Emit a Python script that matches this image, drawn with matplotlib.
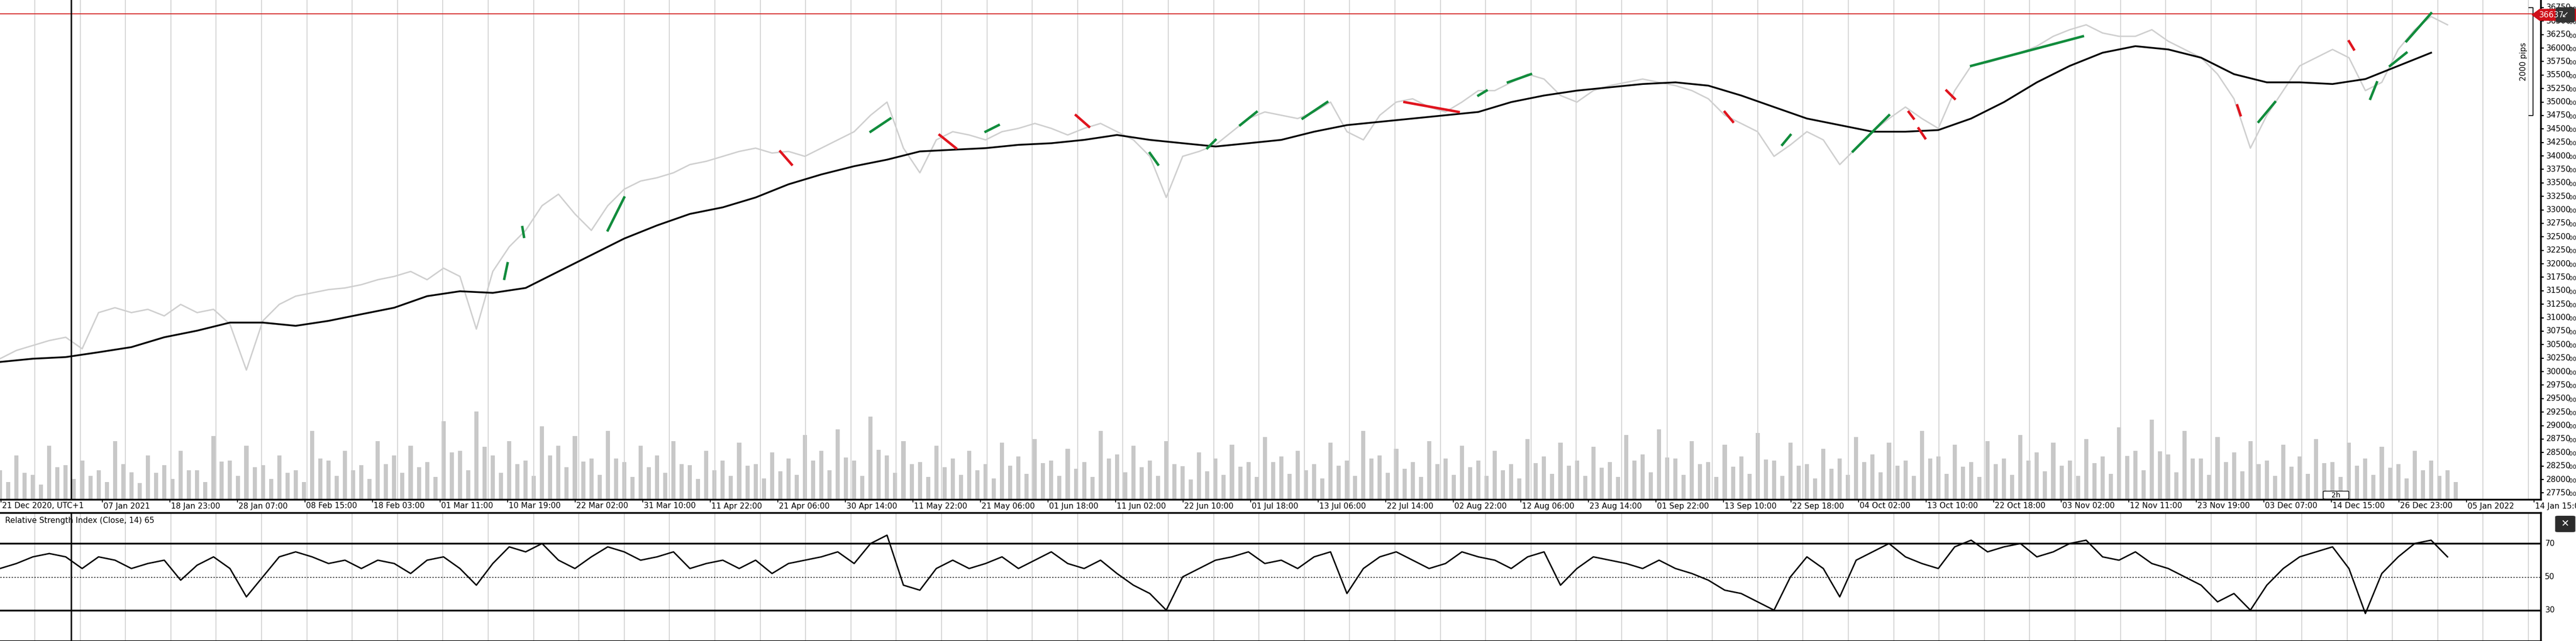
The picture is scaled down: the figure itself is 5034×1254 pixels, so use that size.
import numpy as np
import matplotlib
matplotlib.use("Agg")
import matplotlib.pyplot as plt
from matplotlib.patches import Polygon, FancyBboxPatch

plt.rcParams['font.family'] = ['Liberation Sans Narrow', 'DejaVu Sans']

# ---- data (sample index = one step of ~32 px) ----
price = [30240,30394,30485,30577,30638,30424,31095,31186,31095,31156,31034,31247,31095,31156,30880,30030,
         30942,31247,31400,31461,31522,31552,31613,31705,31766,31858,31705,31919,31766,30790,31858,32315,
         32620,33078,33291,32925,32620,33078,33383,33535,33596,33688,33840,33901,33993,34084,34145,34054,
         34084,33993,34145,34298,34450,34755,34999,34145,33688,34298,34450,34389,34298,34450,34511,34603,
         34511,34389,34511,34603,34450,34298,33993,33230,33993,34084,34206,34450,34694,34816,34755,34694,
         34816,34999,34450,34298,34755,34999,35060,34907,34816,34999,35212,35212,35365,35517,35426,35121,
         34999,35212,35304,35365,35426,35365,35304,35212,35060,34755,34603,34450,33993,34206,34450,34298,
         33840,34145,34450,34694,34907,34694,34511,35212,35670,35731,35822,35914,36036,36219,36341,36432,
         36280,36219,36219,36341,36127,35975,35822,35517,35060,34145,34755,35212,35670,35822,35975,35822,
         35212,35365,35975,36341,36585,36432]
sma_idx = list(range(0, 150, 2))
sma = [30180,30240,30270,30360,30455,30638,30760,30910,30910,30850,30942,31065,31186,31400,31491,31461,
       31552,31858,32163,32468,32712,32925,33047,33230,33474,33657,33810,33931,34084,34115,34145,34206,
       34236,34298,34389,34298,34236,34175,34236,34298,34450,34572,34633,34694,34755,34816,34999,35121,
       35212,35273,35334,35365,35304,35121,34907,34694,34572,34450,34450,34480,34694,34999,35365,35670,
       35914,36036,35975,35822,35517,35365,35365,35334,35426,35670,35914]
rsi = [55,58,62,64,62,55,62,60,55,58,60,48,57,62,55,38,50,62,65,62,58,60,55,60,58,52,60,62,55,45,
       58,68,65,70,60,55,62,68,65,60,62,65,55,58,60,55,60,52,58,60,62,65,58,70,75,45,42,55,60,55,
       58,62,55,60,65,58,55,60,52,45,40,30,50,55,60,62,65,58,60,55,62,65,40,55,62,65,60,55,58,65,
       62,60,55,62,65,45,55,62,60,58,55,60,55,52,48,42,40,35,30,50,62,55,38,60,65,70,62,58,55,68,
       72,65,68,70,62,65,70,72,62,60,65,58,55,50,45,35,40,30,45,55,62,65,68,55,28,52,62,70,72,62]
volume = [30,45,25,55,35,40,30,60,28,45,35,50,30,65,40,55,35,45,30,70,40,50,35,60,45,55,38,80,50,90,
          45,60,40,75,55,65,42,70,38,55,45,60,35,50,40,58,36,48,42,66,50,72,40,85,45,60,38,55,42,50,
          36,58,44,62,40,52,38,70,46,55,40,60,34,48,42,56,38,64,44,50,36,58,40,70,45,52,38,60,42,55,
          40,50,36,62,44,58,40,54,38,66,46,72,42,60,38,56,44,68,40,58,36,52,42,64,46,58,40,70,44,56,
          38,60,42,66,48,58,40,62,44,74,50,82,46,70,42,64,48,60,40,56,44,62,38,58,42,54,36,50,40,30]
green_seg = [(30.7,31722,30.9,32010),(31.8,32680,31.9,32500),(37.0,32620,38.0,33230),(53.0,34450,54.2,34694),
             (60.0,34450,60.8,34572),(70.0,34054,70.5,33840),(73.5,34145,74.0,34298),(75.5,34572,76.5,34816),
             (79.3,34694,80.8,34999),(90.0,35121,90.5,35212),(91.8,35365,93.2,35517),(108.5,34206,109.0,34389),
             (112.8,34084,115.0,34755),(120.0,35670,126.8,36219),(137.5,34633,138.5,34999),(144.3,35060,144.7,35365),
             (145.5,35670,146.5,35914),(146.5,36127,148.0,36646)]
red_seg = [(47.5,34084,48.2,33840),(57.2,34389,58.2,34145),(65.5,34755,66.3,34542),(85.5,34999,88.8,34816),
           (105.0,34816,105.5,34633),(116.2,34816,116.5,34694),(116.8,34511,117.2,34328),(118.5,35212,119.0,35060),
           (136.2,34938,136.4,34755),(143.0,36127,143.3,35975)]
date_labels = ["07 Jan 2021","18 Jan 23:00","28 Jan 07:00","08 Feb 15:00","18 Feb 03:00","01 Mar 11:00",
               "10 Mar 19:00","22 Mar 02:00","31 Mar 10:00","11 Apr 22:00","21 Apr 06:00","30 Apr 14:00",
               "11 May 22:00","21 May 06:00","01 Jun 18:00","11 Jun 02:00","22 Jun 10:00","01 Jul 18:00",
               "13 Jul 06:00","22 Jul 14:00","02 Aug 22:00","12 Aug 06:00","23 Aug 14:00","01 Sep 22:00",
               "13 Sep 10:00","22 Sep 18:00","04 Oct 02:00","13 Oct 10:00","22 Oct 18:00","03 Nov 02:00",
               "12 Nov 11:00","23 Nov 19:00","03 Dec 07:00","14 Dec 15:00","26 Dec 23:00","05 Jan 2022",
               "14 Jan 15:00"]
last_price = 36637
price_ticks = list(range(27750, 36751, 250))

# ---- layout ----
W, H = 5034, 1254
PX = 32.1  # px per sample
fig = plt.figure(figsize=(W/100, H/100), dpi=100)
xr = 4965 / W
ax = fig.add_axes([0, (H-977)/H, xr, 977/H])
ar = fig.add_axes([0, 0, xr, (H-1003)/H])
xmax = 4965 / PX
ylo, yhi = 27631, 36892

for a in (ax, ar):
    a.set_xlim(0, xmax)
    a.set_xticks([])
    a.set_yticks([])
    for s in ('top', 'left'):
        a.spines[s].set_visible(False)
    a.spines['right'].set_linewidth(2.5)
    a.spines['bottom'].set_linewidth(2.5)
    for gx in np.arange(68, 4965, 88.6) / PX:
        a.axvline(gx, color='#d0d0d0', lw=1.2, zorder=0)
    a.axvline(139/PX, color='black', lw=2, zorder=5)
ar.spines['top'].set_visible(True); ar.spines['top'].set_linewidth(2.5)

x = np.arange(len(price))
axv = ax.twinx()
axv.set_ylim(0, 512)
axv.set_yticks([])
for s in axv.spines.values():
    s.set_visible(False)
axv.bar(x, volume, width=0.25, color='#c8c8c8', zorder=1)
axv.bar(x + 0.5, [v*0.6 for v in volume], width=0.25, color='#c8c8c8', zorder=1)

ax.set_ylim(ylo, yhi)
ax.set_zorder(axv.get_zorder()+1); ax.patch.set_visible(False)
ax.plot(x, price, color='#cfcfcf', lw=2, zorder=2)
ax.plot(sma_idx, sma, color='black', lw=2.5, zorder=4)
for (x0, y0, x1, y1) in green_seg:
    ax.plot([x0, x1], [y0, y1], color='#118c3c', lw=3.5, zorder=5)
for (x0, y0, x1, y1) in red_seg:
    ax.plot([x0, x1], [y0, y1], color='#e0141e', lw=3.5, zorder=5)
ax.axhline(last_price, color='#d01010', lw=1.2, zorder=3)

# price labels
for p in price_ticks:
    ax.plot([xmax, xmax+0.15], [p, p], color='black', lw=1.5, clip_on=False)
    ax.annotate(f"{p}", (xmax, p), xytext=(8, 0), textcoords='offset points', va='center',
                ha='left', fontsize=11, annotation_clip=False)
    ax.annotate(".00", (xmax, p), xytext=(38, -2), textcoords='offset points', va='center',
                ha='left', fontsize=8, annotation_clip=False)
# last price tag
tag = Polygon([[4965, 29], [4980, 18], [5034, 18], [5034, 40], [4980, 40]], closed=True,
              transform=None, color='#d0101a', zorder=10)
tagpts = np.array([[4948, H-29], [4963, H-18], [5034, H-18], [5034, H-40], [4963, H-40]])
fig.patches.append(Polygon(tagpts/[W, H], closed=True, transform=fig.transFigure, color='#d0101a'))
fig.text(4962/W, 1-29/H, f"{last_price}", color='white', fontsize=11, va='center', ha='left')
fig.patches.append(FancyBboxPatch((5000/W, 1-42/H), 26/W, 26/H, boxstyle="round,pad=0.001",
                                  transform=fig.transFigure, color='#333333'))
fig.text(5013/W, 1-29/H, "↙", color='white', fontsize=12, va='center', ha='center')
# 2000 pips bracket
bx = 4950/PX
ax.plot([bx-0.25, bx, bx, bx-0.25], [36750, 36750, 34750, 34750], color='black', lw=1.2, zorder=6)
ax.text(bx-0.35, 35750, "2000 pips", rotation=90, va='center', ha='right', fontsize=11)

# date labels
ticks_px = [2] + [200 + 132*k for k in range(len(date_labels))]
labels = ["21 Dec 2020, UTC+1"] + date_labels
for tp, lab in zip(ticks_px, labels):
    fig.text((tp+2)/W, 1-990/H, lab, fontsize=11, va='center', ha='left')
    fig.add_artist(plt.Line2D([tp/W, tp/W], [1-977/H, 1-982/H], color='black', lw=1.2))
fig.patches.append(FancyBboxPatch((4545/W, 1-975/H), 40/W, 13/H, boxstyle="round,pad=0.001",
                                  transform=fig.transFigure, facecolor='white', edgecolor='black', lw=1))
fig.text(4565/W, 1-969/H, "2h", fontsize=10, va='center', ha='center')

# RSI
ar.set_ylim(11.5, 88.5)
ar.plot(x, rsi, color='black', lw=2, zorder=4)
ar.axhline(70, color='black', lw=2.5)
ar.axhline(30, color='black', lw=2.5)
ar.axhline(50, color='black', lw=1, ls=(0, (2, 2)))
for lv in (70, 50, 30):
    ar.annotate(f"{lv}", (xmax, lv), xytext=(6, 0), textcoords='offset points', va='center',
                fontsize=11, annotation_clip=False)
ar.text(0.002, 0.97, "Relative Strength Index (Close, 14) 65", transform=ar.transAxes,
        va='top', ha='left', fontsize=11)
fig.patches.append(FancyBboxPatch((4999/W, 1-1039/H), 28/W, 28/H, boxstyle="round,pad=0.001",
                                  transform=fig.transFigure, color='#2b2b2b'))
fig.text(5013/W, 1-1025/H, "✕", color='white', fontsize=14, va='center', ha='center',
         family=['DejaVu Sans'])

fig.savefig("out.png", dpi=100)
